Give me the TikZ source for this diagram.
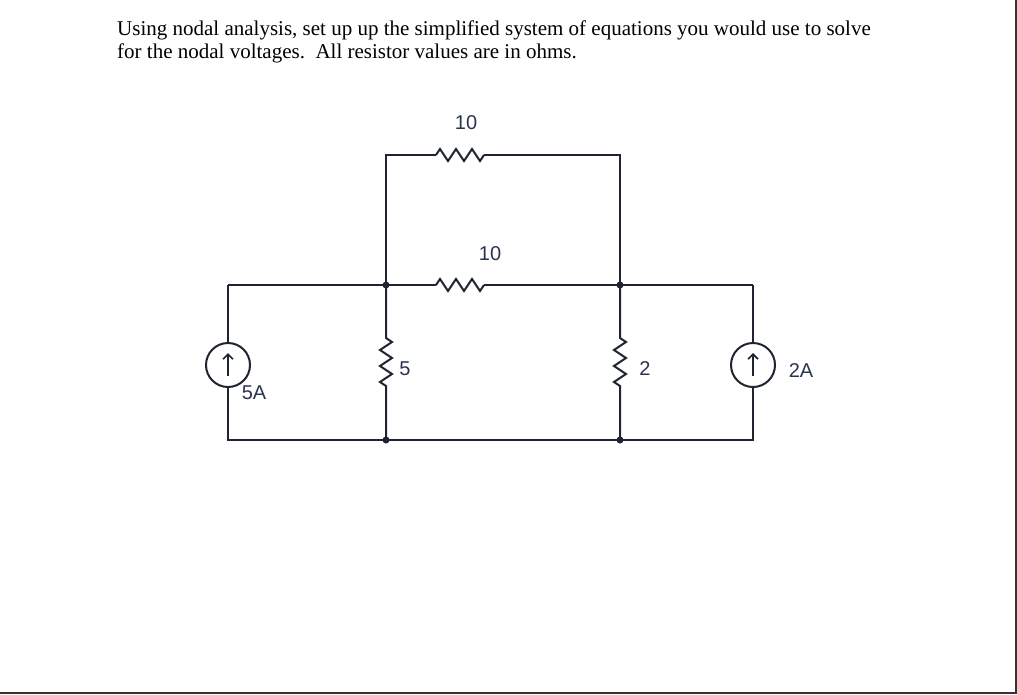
\documentclass[tikz,border=0pt]{standalone}
\usepackage{fontspec}
\setmainfont{Liberation Serif}
\newfontfamily\lblfont{Liberation Sans}
\usetikzlibrary{arrows.meta}
\definecolor{wire}{HTML}{1E2430}
\definecolor{lbl}{HTML}{2A3350}
\begin{document}
\begin{tikzpicture}[x=1pt,y=-1pt,
  wr/.style={draw=wire,line width=2pt},
  dotn/.style={circle,fill=wire,inner sep=0pt,minimum size=7pt},
  src/.style={circle,draw=wire,line width=2pt,minimum size=44pt,inner sep=0pt},
  lbl/.style={font=\lblfont\fontsize{20}{20}\selectfont,text=lbl,inner sep=0pt},
  txt/.style={font=\fontsize{21}{25}\selectfont,anchor=west,inner sep=0pt}]
\useasboundingbox (0,0) rectangle (1017,694);
\draw[draw=black!80,line width=2pt] (1016,0) -- (1016,693) -- (0,693);
\node[txt] (t1) at (117,30) {Using nodal analysis, set up up the simplified system of equations you would use to solve};
\node[txt] (t2) at (117,53) {for the nodal voltages.\ \ All resistor values are in ohms.};
% coordinates
\coordinate (tl) at (386,155); \coordinate (tr) at (620,155);
\coordinate (ml) at (228,285); \coordinate (mr) at (753,285);
\coordinate (bl) at (228,440); \coordinate (br) at (753,440);
\coordinate (n1) at (386,285); \coordinate (n2) at (620,285);
\coordinate (g1) at (386,440); \coordinate (g2) at (620,440);
\node[src] (s5) at (228,365) {}; \node[src] (s2) at (753,365) {};
\draw[wire,line width=1.6pt,-{Straight Barb[length=5pt]}] (228,376) -- (228,353);
\draw[wire,line width=1.6pt,-{Straight Barb[length=5pt]}] (753,376) -- (753,353);
% wires
\draw[wr] (n1) -- (tl) -- (436,155);
\draw[wr] (436,155) -- ++(4,-6) -- ++(8,12) -- ++(8,-12) -- ++(8,12) -- ++(8,-12) -- ++(8,12) -- ++(4,-6) coordinate (re1);
\draw[wr] (re1) -- (tr) -- (n2);
\draw[wr] (ml) -- (n1) -- (436,285);
\draw[wr] (436,285) -- ++(4,-6) -- ++(8,12) -- ++(8,-12) -- ++(8,12) -- ++(8,-12) -- ++(8,12) -- ++(4,-6) coordinate (re2);
\draw[wr] (re2) -- (n2) -- (mr);
\draw[wr] (ml) -- (s5.north); \draw[wr] (s5.south) -- (bl) -- (g1) -- (g2) -- (br) -- (s2.south);
\draw[wr] (mr) -- (s2.north);
\draw[wr] (n1) -- (386,338) -- ++(6,4) -- ++(-12,8) -- ++(12,8) -- ++(-12,8) -- ++(12,8) -- ++(-12,8) -- ++(6,4) -- (g1);
\draw[wr] (n2) -- (620,338) -- ++(6,4) -- ++(-12,8) -- ++(12,8) -- ++(-12,8) -- ++(12,8) -- ++(-12,8) -- ++(6,4) -- (g2);
\foreach \p in {n1,n2,g1,g2} \node[dotn] (d\p) at (\p) {};
% labels
\node[lbl] (l1) at (466,123) {10};
\node[lbl] (l2) at (490,254) {10};
\node[lbl] (l3) at (405,369) {5};
\node[lbl] (l4) at (645,369) {2};
\node[lbl] (l5) at (254,393) {5A};
\node[lbl] (l6) at (801,371) {2A};
\end{tikzpicture}
\end{document}
